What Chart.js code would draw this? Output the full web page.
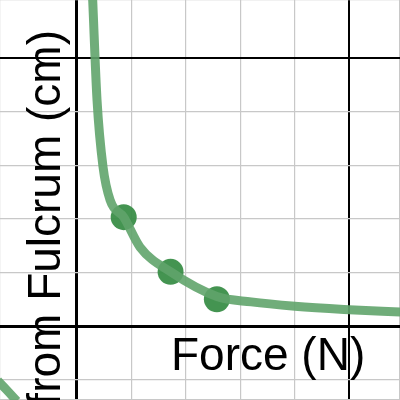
<!DOCTYPE html>
<html><head><script src="https://cdn.jsdelivr.net/npm/chart.js"></script>
<style>html,body{margin:0;padding:0;background:#fff}#w{width:400px;height:400px}</style></head>
<body><div id="w"><canvas id="c"></canvas></div>
<script>
const curveX = [0.29, 0.37, 0.48, 0.61, 0.86, 1.16, 1.72, 2.57, 3.2, 4.0, 4.9, 5.95];
const curveY = [6.1, 4.22, 2.97, 2.35, 2.03, 1.47, 1.01, 0.55, 0.45, 0.37, 0.31, 0.26];
const negX = [-1.45, -1.3, -1.1];
const negY = [-1.02, -1.18, -1.4];
const pointX = [0.86, 1.72, 2.57];
const pointY = [2.03, 1.01, 0.50];
const xTitle = "Force (N)";
const yTitle = "Distance from Fulcrum (cm)";
const toXY = (xs, ys) => xs.map((x, i) => ({x, y: ys[i]}));
const gridColor = c => (c.tick.value === 0 || c.tick.value % 5 === 0) ? '#000' : '#c8c8c8';
const gridWidth = c => c.tick.value === 0 ? 3 : (c.tick.value % 5 === 0 ? 2 : 1.2);
const titles = {id:'titles', afterDraw(ch){
  const g = ch.ctx; g.save(); g.fillStyle='#000';
  g.font = '46px "Liberation Sans", Arial, sans-serif';
  g.textBaseline='alphabetic'; g.textAlign='left';
  g.fillText(xTitle, 171, 370);
  g.translate(60, 30); g.rotate(-Math.PI/2); g.textAlign='right';
  g.fillText(yTitle, 0, 0);
  g.restore();
}};
new Chart(document.getElementById('c'), {
  type: 'scatter',
  data: { datasets: [
    {data: toXY(curveX, curveY), showLine: true, borderColor: 'rgba(96,164,108,0.9)', borderWidth: 9, pointRadius: 0, cubicInterpolationMode:'monotone'},
    {data: toXY(negX, negY), showLine: true, tension: 0.4, borderColor: 'rgba(96,164,108,0.9)', borderWidth: 9, pointRadius: 0},
    {data: toXY(pointX, pointY), pointRadius: 13, backgroundColor: 'rgba(58,142,72,0.95)', borderWidth: 0, pointStyle:'circle'}
  ]},
  options: {
    responsive: true, maintainAspectRatio: false, animation: false,
    layout: {padding: 0, autoPadding: false},
    plugins: {legend: {display: false}, tooltip: {enabled: false}},
    scales: {
      x: {type:'linear', min: -1.41, max: 5.93, ticks:{display:false, stepSize:1}, border:{display:false},
          grid:{color: gridColor, lineWidth: gridWidth, drawTicks:false}, afterFit: s => { s.height = 0; }},
      y: {type:'linear', min: -1.38, max: 6.08, ticks:{display:false, stepSize:1}, border:{display:false},
          grid:{color: gridColor, lineWidth: gridWidth, drawTicks:false}, afterFit: s => { s.width = 0; }}
    }
  },
  plugins: [titles]
});
</script></body></html>
